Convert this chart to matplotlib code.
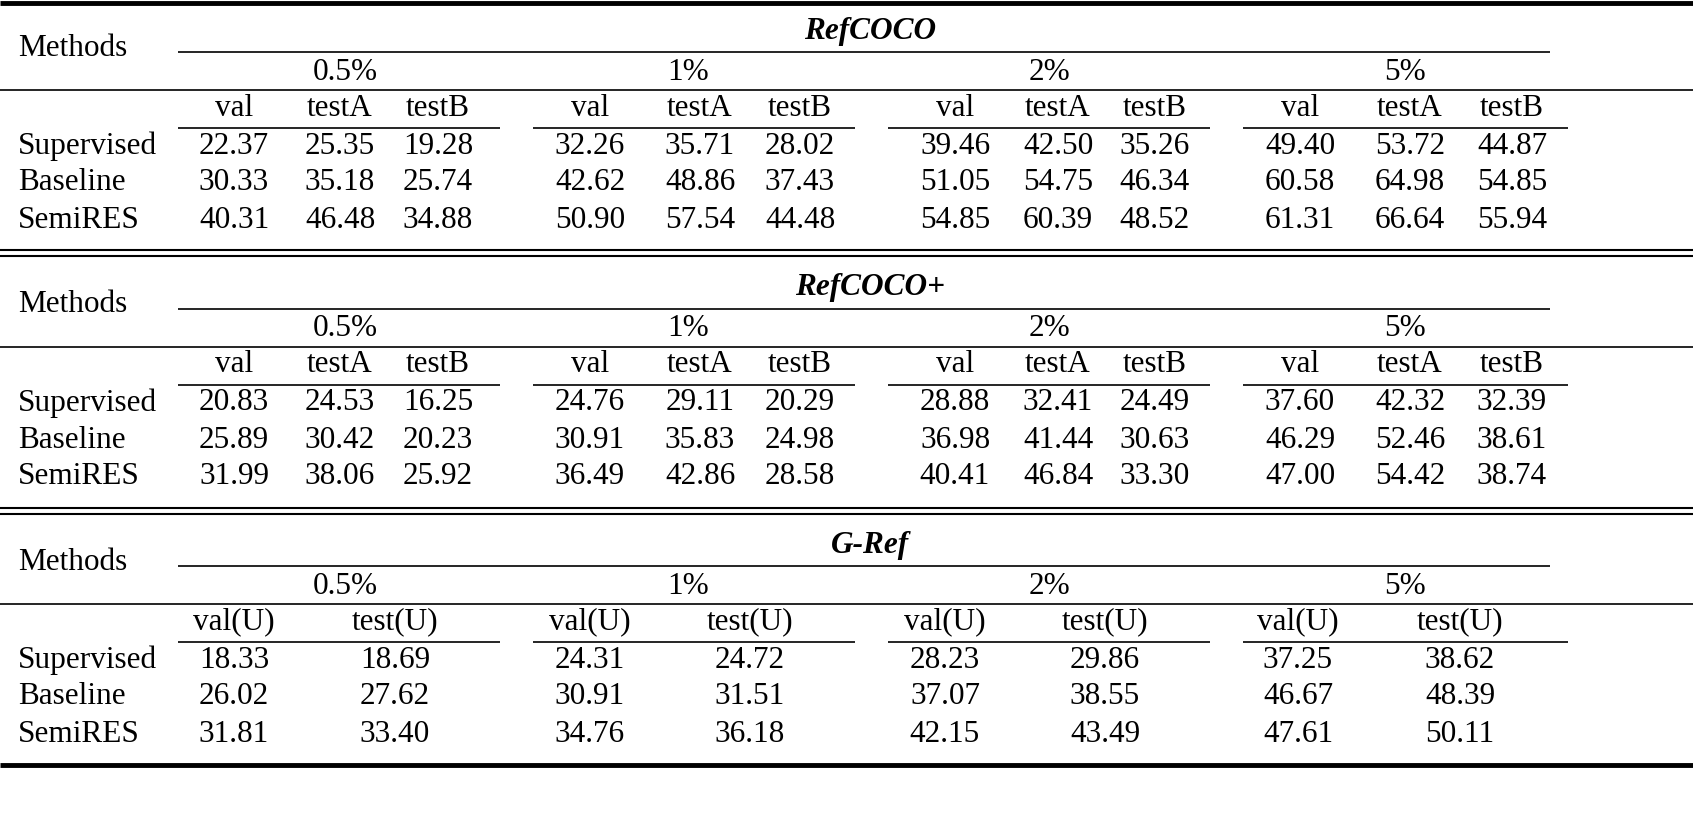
import matplotlib
matplotlib.use("Agg")
import matplotlib.pyplot as plt

W, H = 1693, 831
SPLITS = ["0.5%", "1%", "2%", "5%"]
ROWS = ["Supervised", "Baseline", "SemiRES"]

refcoco = [
    [22.37, 25.35, 19.28, 32.26, 35.71, 28.02, 39.46, 42.50, 35.26, 49.40, 53.72, 44.87],
    [30.33, 35.18, 25.74, 42.62, 48.86, 37.43, 51.05, 54.75, 46.34, 60.58, 64.98, 54.85],
    [40.31, 46.48, 34.88, 50.90, 57.54, 44.48, 54.85, 60.39, 48.52, 61.31, 66.64, 55.94],
]
refcoco_plus = [
    [20.83, 24.53, 16.25, 24.76, 29.11, 20.29, 28.88, 32.41, 24.49, 37.60, 42.32, 32.39],
    [25.89, 30.42, 20.23, 30.91, 35.83, 24.98, 36.98, 41.44, 30.63, 46.29, 52.46, 38.61],
    [31.99, 38.06, 25.92, 36.49, 42.86, 28.58, 40.41, 46.84, 33.30, 47.00, 54.42, 38.74],
]
gref = [
    [18.33, 18.69, 24.31, 24.72, 28.23, 29.86, 37.25, 38.62],
    [26.02, 27.62, 30.91, 31.51, 37.07, 38.55, 46.67, 48.39],
    [31.81, 33.40, 34.76, 36.18, 42.15, 43.49, 47.61, 50.11],
]

COLS3 = ["val", "testA", "testB"]
COLS2 = ["val(U)", "test(U)"]
X3 = [234, 340, 438, 590, 700, 800, 955, 1058, 1155, 1300, 1410, 1512]
X2 = [234, 395, 590, 750, 945, 1105, 1298, 1460]
SPLIT_X = [345, 688, 1050, 1405]
GROUPS = [(178, 500), (533, 855), (888, 1210), (1243, 1568)]

fig = plt.figure(figsize=(W / 100, H / 100), dpi=100)
ax = fig.add_axes([0, 0, 1, 1])
ax.set_xlim(0, W)
ax.set_ylim(H, 0)
ax.axis("off")
FONT = "Liberation Serif"
FS = 22.5


def txt(x, y, s, ha="center", **kw):
    ax.text(x, y, s, ha=ha, va="center", fontsize=FS, family=FONT, **kw)


def hline(y, x0=0, x1=1693, lw=1.2):
    ax.plot([x0, x1], [y, y], color="black", lw=lw, solid_capstyle="butt")


def section(y0, title, cols, xs, data):
    txt(18, y0 + 46, "Methods", ha="left")
    txt(870, y0 + 29, title, fontweight="bold", fontstyle="italic")
    hline(y0 + 50, 178, 1550)
    for s, x in zip(SPLITS, SPLIT_X):
        txt(x, y0 + 70, s)
    hline(y0 + 88)
    per = len(cols)
    for i, x in enumerate(xs):
        txt(x, y0 + 106, cols[i % per])
    for a, b in GROUPS:
        hline(y0 + 126, a, b)
    for r, (name, vals) in enumerate(zip(ROWS, data)):
        y = y0 + 144 + 37 * r
        txt(18, y, name, ha="left")
        for x, v in zip(xs, vals):
            txt(x, y, f"{v:.2f}")


hline(3, lw=3.5)
section(2, "RefCOCO", COLS3, X3, refcoco)
hline(250, lw=1.5)
hline(256, lw=1.5)
section(259, "RefCOCO+", COLS3, X3, refcoco_plus)
hline(508, lw=1.5)
hline(514, lw=1.5)
section(516, "G-Ref", COLS2, X2, gref)
hline(765, lw=3.5)

fig.savefig("out.png", dpi=100)
